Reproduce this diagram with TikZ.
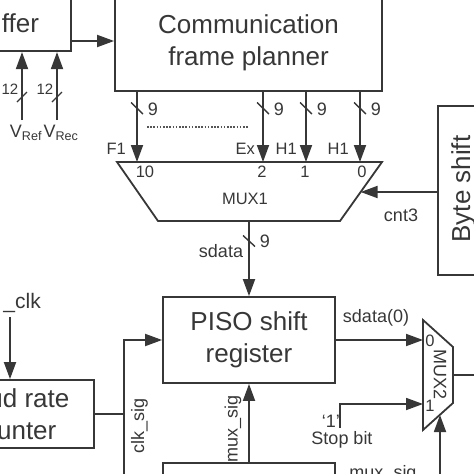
\documentclass[tikz,border=0pt]{standalone}
\usepackage{fontspec}
\setmainfont{Liberation Sans}
\usetikzlibrary{arrows.meta}
\definecolor{ink}{RGB}{55,55,55}
\begin{document}
\begin{tikzpicture}[x=1pt,y=-1pt,
  conn/.style={draw=ink, line width=1.8pt},
  arr/.style={conn, -{Triangle[length=17pt,width=12pt]}},
  box/.style={draw=ink, line width=1.8pt, inner sep=0pt, text=ink, align=center,
    font=\fontsize{26}{32}\selectfont},
  bigtxt/.style={inner sep=0pt, text=ink, font=\fontsize{26}{32}\selectfont},
  lbl/.style={inner sep=0pt, text=ink, font=\fontsize{16.5}{18}\selectfont},
  slbl/.style={inner sep=0pt, text=ink, font=\fontsize{15}{18}\selectfont},
  mlbl/.style={inner sep=0pt, text=ink, font=\fontsize{18}{20}\selectfont},
  vlbl/.style={inner sep=0pt, text=ink, font=\fontsize{18}{20}\selectfont},
  clkfont/.style={inner sep=0pt, text=ink, font=\fontsize{21}{24}\selectfont},
  slash/.style={draw=ink, line width=1.4pt}
]
\useasboundingbox (0,0) rectangle (474,474);
\clip (0,0) rectangle (474,474);

% boxes
\node[box, minimum width=133pt, minimum height=55pt] (buf) at (4.5,23.7) {Buffer};
\node[box, minimum width=267pt, minimum height=97pt] (comm) at (248.5,42.5) {Communication\\frame planner};
\node[box, minimum width=172pt, minimum height=86pt] (piso) at (249,340) {PISO shift\\register};
\node[box, minimum width=162pt, minimum height=68pt] (baud) at (13,414) {Baud rate\\counter};
\node[box, minimum width=90pt, minimum height=169pt] (byte) at (483,190.5) {};
\node[bigtxt, rotate=90] (bytetxt) at (463.5,189) {Byte shift};
\node[box, minimum width=172pt, minimum height=60pt] (bot) at (249,493) {};

% buffer -> planner
\coordinate (bc) at (71,41);
\draw[arr] (bc) -- (bc -| comm.west);

% V inputs
\coordinate (vref) at (22,120);
\coordinate (vrec) at (57,120);
\draw[arr] (vref) -- (vref |- buf.south);
\draw[arr] (vrec) -- (vrec |- buf.south);
\draw[slash] (17,102) -- (27,92);
\draw[slash] (52,102) -- (62,92);
\node[slbl] (n12a) at (10,89) {12};
\node[slbl] (n12b) at (45,89) {12};
\node[vlbl, anchor=north] (vreft) at (26,125) {V\textsubscript{Ref}};
\node[vlbl, anchor=north] (vrect) at (61,125) {V\textsubscript{Rec}};

% MUX1
\draw[conn] (117,162) coordinate (m1tl) -- (382,162) coordinate (m1tr)
  -- (340,221) coordinate (m1br) -- (158,221) coordinate (m1bl) -- cycle;
\node[lbl] (mux1) at (245,199) {MUX1};

\coordinate (i10) at (137,162);
\coordinate (i2) at (263,162);
\coordinate (i1) at (306,162);
\coordinate (i0) at (360,162);
\foreach \c in {i10,i2,i1,i0}{
  \draw[arr] (comm.south -| \c) -- (\c);
}
\foreach \x in {137,263,306,360}{
  \draw[slash] (\x-6,102.5) -- (\x+6,114);
  \node[mlbl] at (\x+16,109) {9};
}
\draw[ink!85, line width=1.3pt, dash pattern=on 1.6pt off 1.6pt] (147,127) -- (248,127);
\node[lbl, anchor=east] (lf1) at (126,149) {F1};
\node[lbl, anchor=east] (lex) at (255,149) {Ex};
\node[lbl, anchor=east] (lh1a) at (297,149) {H1};
\node[lbl, anchor=east] (lh1b) at (349,149) {H1};
\node[lbl] (n10) at (145,172) {10};
\node[lbl] (n2) at (262,172) {2};
\node[lbl] (n1) at (305,172) {1};
\node[lbl] (n0) at (362,172) {0};

% cnt3
\coordinate (sel1) at (360.6,192);
\draw[arr] (byte.west |- sel1) -- (sel1);
\node[mlbl] (cnt3) at (401,215) {cnt3};

% sdata
\coordinate (m1out) at (249,221);
\draw[arr] (m1out) -- (piso.north);
\draw[slash] (243,235.5) -- (255,246.5);
\node[mlbl] (n9s) at (265,241) {9};
\node[mlbl] (sdata) at (221,251) {sdata};

% clk
\node[clkfont, anchor=base east] (clk) at (41,308) {\_clk};
\coordinate (clkend) at (10,317);
\draw[arr] (clkend) -- (clkend |- baud.north);

% clk_sig
\coordinate (cs) at (124,480);
\draw[arr] (cs) |- (piso.west);
\draw[conn] (baud.east) -- (baud.east -| cs);
\node[mlbl, rotate=90] (clksig) at (139.5,426) {clk\_sig};

% mux_sig to PISO
\draw[arr] (bot.north) -- (piso.south);
\node[mlbl, rotate=90] (muxsig1) at (233,429) {mux\_sig};

% MUX2
\draw[conn] (423,320) coordinate (m2a) -- (453,347) coordinate (m2b)
  -- (453,403) coordinate (m2c) -- (423,430) coordinate (m2d) -- cycle;
\node[mlbl, rotate=-90] (mux2) at (440,375) {MUX2};
\node[lbl] (m2n0) at (430,341) {0};
\node[lbl] (m2n1) at (430,406) {1};
\coordinate (m2in0) at (423,340);
\draw[arr] (piso.east) -- (piso.east -| m2in0);
\node[mlbl] (sd0) at (376,318) {sdata(0)};
\coordinate (stop) at (340,428);
\coordinate (m2in1) at (423,404);
\draw[arr] (stop) |- (m2in1);
\node[mlbl, anchor=east] (one) at (340,421) {`1'};
\node[mlbl] (stopbit) at (342,440) {Stop bit};
\coordinate (selsrc) at (440,480);
\coordinate (m2sel) at (440,415);
\draw[arr] (selsrc) -- (m2sel);
\coordinate (m2out) at (453,375);
\coordinate (outend) at (480,375);
\draw[conn] (m2out) -- (outend);
\node[mlbl, anchor=north] (muxsig2) at (383,465) {mux\_sig};
\end{tikzpicture}
\end{document}
